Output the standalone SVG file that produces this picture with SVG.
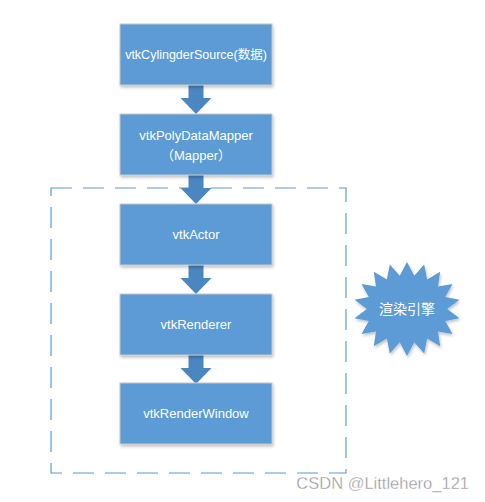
<svg xmlns="http://www.w3.org/2000/svg" width="485" height="502" viewBox="0 0 485 502">
<defs>
<filter id="sh" x="-10%" y="-10%" width="130%" height="130%">
<feGaussianBlur in="SourceAlpha" stdDeviation="1.5"/>
<feOffset dx="1" dy="2" result="b"/>
<feComponentTransfer><feFuncA type="linear" slope="0.25"/></feComponentTransfer>
<feMerge><feMergeNode/><feMergeNode in="SourceGraphic"/></feMerge>
</filter>
<path id="arr" d="M-7.5,0 H7.5 V13 H15.5 L0,29 L-15.5,13 H-7.5 Z"/>
</defs>
<style>
.box{fill:#5B9BD5;stroke:#C8C8C8;stroke-width:1;filter:url(#sh)}
.t{font-family:"Liberation Sans","Noto Sans CJK SC",sans-serif;font-size:13px;fill:#fff;text-anchor:middle}
.a{fill:#4A86C0}
</style>
<rect width="485" height="502" fill="#fff"/>
<rect x="51" y="188" width="295" height="285" fill="none" stroke="#5B9BD5" stroke-width="1.2" stroke-dasharray="21,11"/>
<g id="connectors">
<use href="#arr" class="a" x="196" y="85"/>
<use href="#arr" class="a" x="196" y="175"/>
<use href="#arr" class="a" x="196" y="265"/>
<use href="#arr" class="a" x="196" y="355"/>
</g>
<g id="n1"><rect class="box" x="120" y="24" width="152" height="61"/><text class="t" x="196" y="59" style="font-size:12.5px">vtkCylingderSource(数据)</text></g>
<g id="n2"><rect class="box" x="120" y="114" width="152" height="61"/><text class="t" x="196" y="140">vtkPolyDataMapper</text><text class="t" x="196" y="160">（Mapper）</text></g>
<g id="n3"><rect class="box" x="120" y="204" width="152" height="61"/><text class="t" x="196" y="239">vtkActor</text></g>
<g id="n4"><rect class="box" x="120" y="294" width="152" height="61"/><text class="t" x="196" y="329">vtkRenderer</text></g>
<g id="n5"><rect class="box" x="120" y="383" width="152" height="61"/><text class="t" x="196" y="418">vtkRenderWindow</text></g>
<g id="star">
<polygon filter="url(#sh)" fill="#5B9BD5" points="407.0,262.0 414.3,275.8 424.2,264.6 427.1,279.4 440.2,271.8 438.0,286.6 452.5,284.0 445.2,297.1 459.5,299.8 447.2,309.0 459.5,318.2 445.2,320.9 452.5,334.0 438.0,331.4 440.2,346.2 427.1,338.6 424.2,353.4 414.3,342.2 407.0,356.0 399.7,342.2 389.8,353.4 386.9,338.6 373.8,346.2 376.0,331.4 361.5,334.0 368.8,320.9 354.5,318.2 366.8,309.0 354.5,299.8 368.8,297.1 361.5,284.0 376.0,286.6 373.8,271.8 386.9,279.4 389.8,264.6 399.7,275.8"/>
<text class="t" x="407" y="314" style="font-size:14px">渲染引擎</text>
</g>
<text x="469" y="489" text-anchor="end" font-family="Liberation Sans, sans-serif" font-size="16.5" fill="#999" stroke="#fff" stroke-width="0.3">CSDN @Littlehero_121</text>
</svg>
